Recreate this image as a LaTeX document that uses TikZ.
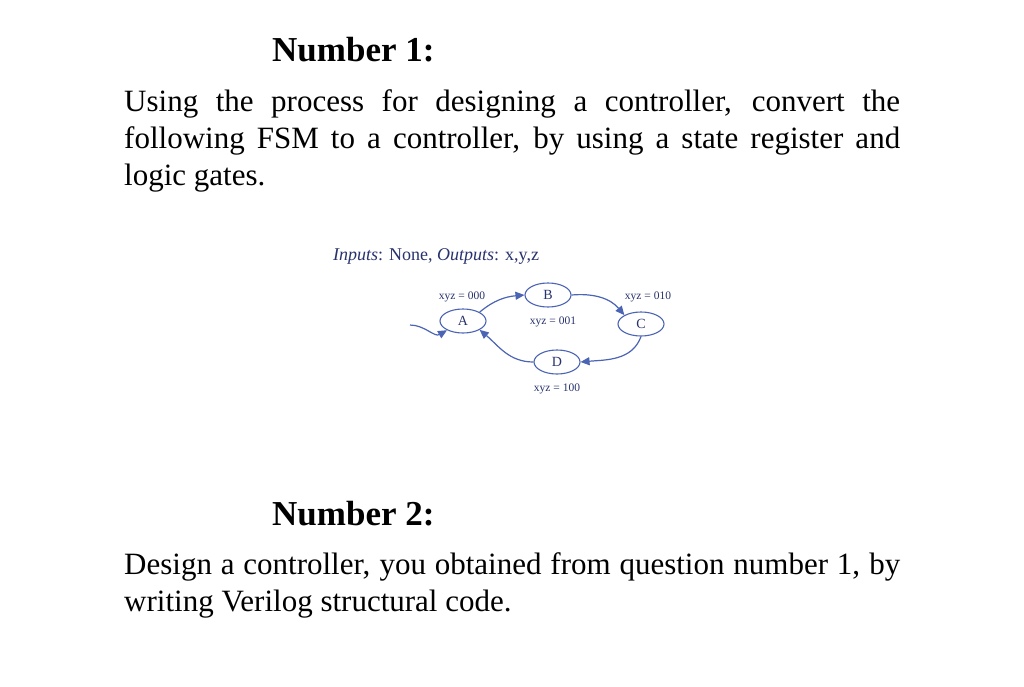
\documentclass[tikz,border=0pt]{standalone}
\usepackage{fontspec}
\setmainfont{Liberation Serif}
\usetikzlibrary{shapes.geometric,arrows.meta}
\definecolor{fsm}{RGB}{75,100,180}
\definecolor{fsmtxt}{RGB}{40,50,110}
\begin{document}
\begin{tikzpicture}[x=1pt,y=-1pt,
  st/.style={ellipse,draw=fsm,line width=1.1pt,minimum width=46pt,minimum height=24pt,inner sep=0pt,font=\fontsize{14}{14}\selectfont,text=fsmtxt},
  lab/.style={font=\fontsize{11.5}{11.5}\selectfont,text=fsmtxt,inner sep=0pt},
  tr/.style={draw=fsm,line width=1.2pt,-{Triangle[length=9pt,width=8pt]}},
  body/.style={anchor=north west,text width=776pt,align=justify,inner sep=0pt,font=\fontsize{31}{37}\selectfont},
  head/.style={anchor=west,inner sep=0pt,font=\fontsize{35}{35}\selectfont\bfseries}]
\useasboundingbox[fill=white] (0,0) rectangle (1024,687);
\node[head] (h1) at (272,50) {Number 1:};
\node[body] (t1) at (124,89) {Using the process for designing a controller, convert the\linebreak following FSM to a controller, by using a state register and\linebreak logic gates.};
\node[anchor=west,inner sep=0pt,font=\fontsize{18}{18}\selectfont,text=fsmtxt] (io) at (333,256) {\textit{Inputs}: None, \textit{Outputs}: x,y,z};
\node[st] (A) at (463,321) {A};
\node[st] (B) at (548,295) {B};
\node[st] (C) at (641,324) {C};
\node[st] (D) at (557,362) {D};
\node[lab] (la) at (462,297) {xyz = 000};
\node[lab] (lb) at (553,322) {xyz = 001};
\node[lab] (lc) at (648,297) {xyz = 010};
\node[lab] (ld) at (557,389) {xyz = 100};
\coordinate (s) at (410,325);
\draw[tr] (s) to[out=0,in=210] (A);
\draw[tr] (A.north east) to[out=40,in=185] (B.west);
\draw[tr] (B.east) to[out=5,in=130] (C.north west);
\draw[tr] (C.south) to[out=-110,in=5] (D.east);
\draw[tr] (D.west) to[out=180,in=-40] (A.south east);
\node[head] (h2) at (272,514) {Number 2:};
\node[body] (t2) at (124,552) {Design a controller, you obtained from question number 1, by\linebreak writing Verilog structural code.};
\end{tikzpicture}
\end{document}
